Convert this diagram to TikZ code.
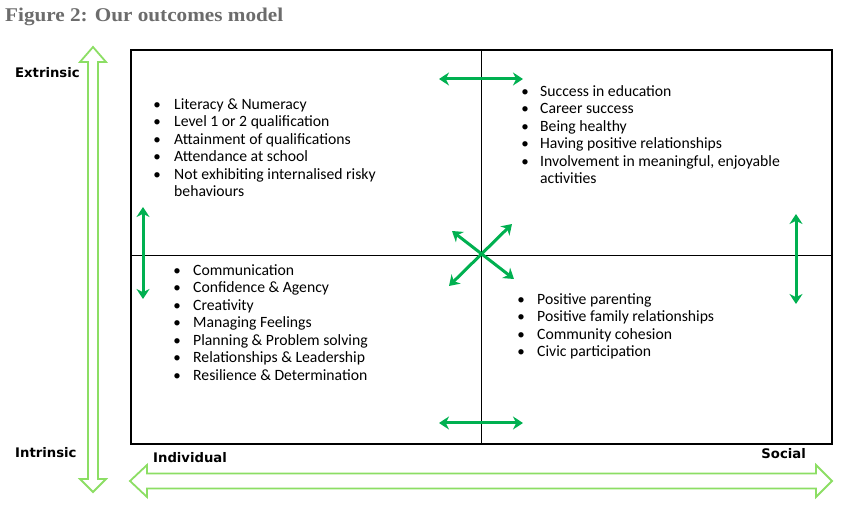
\documentclass[tikz,border=0pt]{standalone}
\usepackage{fontspec}
\setmainfont{Carlito}
\newfontfamily\lblfont{DejaVu Sans}
\newfontfamily\titlefont{Liberation Serif}
\usetikzlibrary{arrows.meta}
\definecolor{ttl}{RGB}{108,108,108}
\definecolor{lgreen}{RGB}{140,222,100}
\definecolor{dgreen}{RGB}{0,176,80}
\begin{document}
\begin{tikzpicture}[x=1pt,y=-1pt,
  txt/.style={anchor=base west,inner sep=0pt,font=\fontsize{15.7}{17}\selectfont},
  bul/.style={anchor=base,inner sep=0pt,font=\fontsize{15}{17}\selectfont},
  lbl/.style={inner sep=0pt,font=\lblfont\bfseries\fontsize{13.2}{14}\selectfont},
  garrow/.style={draw=dgreen,line width=3pt,{Stealth[length=10pt,width=13pt]}-{Stealth[length=10pt,width=13pt]}},
  hollow/.style={draw=lgreen,line width=1.8pt,line join=miter,fill=white}]
\useasboundingbox (0,0) rectangle (849,510);

% title
\node[anchor=base west,inner sep=0pt,text=ttl] (title) at (5,22)
  {\resizebox{278pt}{13.5pt}{\titlefont\bfseries Figure 2: Our outcomes model}};

% hollow axis arrows
\draw[hollow] (93,47) -- (106,62) -- (98,62) -- (98,479) -- (106,479) -- (93,492)
  -- (80,479) -- (88,479) -- (88,62) -- (80,62) -- cycle;
\draw[hollow] (130,481) -- (147,465) -- (147,473.5) -- (816,473.5) -- (816,465) -- (832,481)
  -- (816,497) -- (816,488.5) -- (147,488.5) -- (147,497) -- cycle;

% axis labels
\node[lbl,anchor=base west] (ext) at (15,78) {Extrinsic};
\node[lbl,anchor=base west] (int) at (15,457) {Intrinsic};
\node[lbl,anchor=base west] (ind) at (153,462) {Individual};
\node[lbl,anchor=base east] (soc) at (806,459) {Social};

% box and quadrant lines
\draw[line width=1.4pt] (131,50) rectangle (832,444);
\draw[line width=0.9pt] (481,50) -- (481,444);
\draw[line width=0.9pt] (131,255) -- (832,255);

% lists
\foreach \t [count=\i from 0] in {Literacy \& Numeracy,Level 1 or 2 qualification,Attainment of qualifications,Attendance at school,Not exhibiting internalised risky}{
  \node[bul] (tlb\i) at (157,109.5+17.4*\i) {•};
  \node[txt] (tl\i) at (174,109.5+17.4*\i) {\t};
}
\node[txt] (tl5) at (174,109.5+17.4*5) {behaviours};

\foreach \t [count=\i from 0] in {Success in education,Career success,Being healthy,Having positive relationships,{Involvement in meaningful, enjoyable}}{
  \node[bul] (trb\i) at (525,96.5+17.4*\i) {•};
  \node[txt] (tr\i) at (540,96.5+17.4*\i) {\t};
}
\node[txt] (tr5) at (540,96.5+17.4*5) {activities};

\foreach \t [count=\i from 0] in {Communication,Confidence \& Agency,Creativity,Managing Feelings,Planning \& Problem solving,Relationships \& Leadership,Resilience \& Determination}{
  \node[bul] (blb\i) at (177,275.5+17.5*\i) {•};
  \node[txt] (bl\i) at (193,275.5+17.5*\i) {\t};
}

\foreach \t [count=\i from 0] in {Positive parenting,Positive family relationships,Community cohesion,Civic participation}{
  \node[bul] (brb\i) at (521,304.5+17.4*\i) {•};
  \node[txt] (br\i) at (537,304.5+17.4*\i) {\t};
}

% green double arrows
\coordinate (thL) at (439,79);  \coordinate (thR) at (523,79);
\coordinate (bhL) at (439,423); \coordinate (bhR) at (523,423);
\coordinate (lvT) at (143,207); \coordinate (lvB) at (143,299);
\coordinate (rvT) at (796,214); \coordinate (rvB) at (796,304);
\coordinate (xNE) at (512,224); \coordinate (xSW) at (449,286);
\coordinate (xNW) at (452,231); \coordinate (xSE) at (514,279);
\draw[garrow] (thL) -- (thR);
\draw[garrow] (bhL) -- (bhR);
\draw[garrow] (lvT) -- (lvB);
\draw[garrow] (rvT) -- (rvB);
\draw[garrow] (xNE) -- (xSW);
\draw[garrow] (xNW) -- (xSE);
\end{tikzpicture}
\end{document}
